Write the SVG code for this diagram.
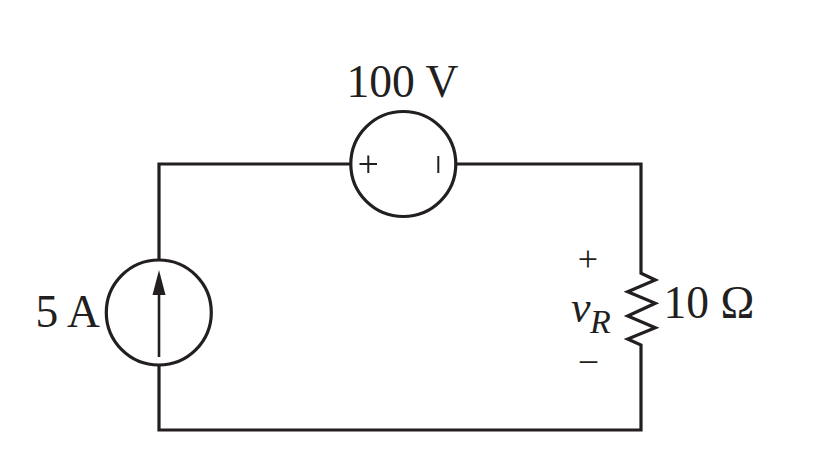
<svg xmlns="http://www.w3.org/2000/svg" width="835" height="466" viewBox="0 0 835 466">
<style>
.w{fill:none;stroke:#231f20;stroke-width:3.2}
.t{stroke-width:2}
text{font-family:"Liberation Serif","Times New Roman",serif;fill:#231f20;font-size:45.500px}
.i{font-style:italic}
</style>
<rect width="835" height="466" fill="#fff"/>
<g id="connectors">
<path class="w" d="M350.500 164H159V260M159 365V430H641V345L627.700 339L655.300 327.700L627.700 316L655.300 303.300L627.700 291.700L655.300 280L641 273.300V164H456"/>
</g>
<g id="voltage-source">
<circle class="w" cx="403.300" cy="164" r="52.500"/>
<path class="w t" d="M359.500 164H377M368.300 155.500V173M438.300 156V173"/>
<text x="346.500" y="96.700" style="font-size:45.600px">100 V</text>
</g>
<g id="current-source">
<circle class="w" cx="158.800" cy="312.500" r="52.500"/>
<path class="w" d="M159 357V295" style="stroke-width:2.600"/>
<path d="M159 270L165.500 295H152.500Z" fill="#231f20"/>
<text x="35.500" y="326.700">5 A</text>
</g>
<g id="resistor">
<text x="663.500" y="318.300">10 Ω</text>
<text x="588" y="270.500" text-anchor="middle" style="font-size:36px">+</text>
<text x="571" y="322" class="i" style="font-size:44px">v</text>
<text x="590" y="333" class="i" style="font-size:34px">R</text>
<text x="588.500" y="375" text-anchor="middle" style="font-size:38px">−</text>
</g>
</svg>
